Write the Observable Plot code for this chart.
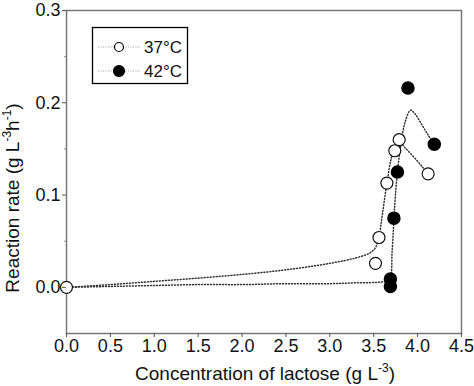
<!DOCTYPE html>
<html><head><meta charset="utf-8">
<script src="https://cdn.jsdelivr.net/npm/d3@7"></script>
<script src="https://cdn.jsdelivr.net/npm/@observablehq/plot@0.6"></script>
<style>body{margin:0;background:#fff;font-family:"Liberation Sans",Arial,sans-serif}</style>
</head><body><div id="chart"></div>
<script>
const xTicks = [0,0.5,1.0,1.5,2.0,2.5,3.0,3.5,4.0,4.5];
const yTicks = [0.0,0.1,0.2,0.3];
const yMinor = [0.05,0.15,0.25];
const series = ["37°C","42°C"];
// measured points
const x37 = [0, 3.52, 3.56, 3.65, 3.74, 3.79, 4.12];
const y37 = [0, 0.026, 0.054, 0.113, 0.148, 0.160, 0.123];
const x42 = [3.69, 3.69, 3.73, 3.77, 3.89, 4.19];
const y42 = [0.009, 0.001, 0.075, 0.125, 0.216, 0.155];
// dotted fit curves
const fx37 = [0, 0.5, 1.0, 1.5, 2.0, 2.5, 3.0, 3.3, 3.45, 3.52, 3.56, 3.60, 3.65, 3.70, 3.75, 3.79, 3.85, 3.95, 4.05, 4.12];
const fy37 = [0, 0.003, 0.0065, 0.010, 0.014, 0.019, 0.026, 0.032, 0.037, 0.043, 0.055, 0.080, 0.113, 0.140, 0.155, 0.158, 0.152, 0.142, 0.131, 0.123];
const fx42 = [0, 0.5, 1.0, 1.5, 2.0, 2.5, 3.0, 3.3, 3.6, 3.68, 3.71, 3.74, 3.77, 3.81, 3.86, 3.92, 3.97, 4.05, 4.12, 4.19];
const fy42 = [0, 0.001, 0.002, 0.003, 0.003, 0.004, 0.004, 0.005, 0.006, 0.009, 0.040, 0.090, 0.125, 0.155, 0.180, 0.192, 0.188, 0.176, 0.165, 0.155];

const pts37 = x37.map((x,i)=>({x,y:y37[i]}));
const pts42 = x42.map((x,i)=>({x,y:y42[i]}));
const fit37 = fx37.map((x,i)=>({x,y:fy37[i]}));
const fit42 = fx42.map((x,i)=>({x,y:fy42[i]}));

const FONT = '"Liberation Sans", Arial, sans-serif';
const axisColor = "#555";
const plot = Plot.plot({
  width: 474, height: 386,
  marginLeft: 66, marginRight: 13, marginTop: 10, marginBottom: 53,
  style: {fontFamily: FONT, background: "#fff", overflow: "visible"},
  x: {domain: [0, 4.5], label: null},
  y: {domain: [-0.05, 0.3], label: null},
  marks: [
    Plot.frame({stroke: "#777", strokeWidth: 1.5}),
    Plot.lineY(fit37, {x: "x", y: "y", stroke: "#333", strokeWidth: 1.5, strokeDasharray: "1,2", curve: "catmull-rom"}),
    Plot.lineY(fit42, {x: "x", y: "y", stroke: "#333", strokeWidth: 1.5, strokeDasharray: "1,2", curve: "catmull-rom"}),
    Plot.dot(pts37, {x: "x", y: "y", r: 6, stroke: "#111", strokeWidth: 1.2, fill: "#fff"}),
    Plot.dot(pts42, {x: "x", y: "y", r: 6, stroke: "#000", fill: "#000"}),
    Plot.axisX({ticks: xTicks, tickFormat: d3.format(".1f"), tickSize: 4, tickPadding: 2, fontSize: 18, stroke: axisColor, fill: "#111"}),
    Plot.axisY({ticks: yTicks, tickFormat: d3.format(".1f"), tickSize: 4, tickPadding: 2, fontSize: 18, stroke: axisColor, fill: "#111"}),
    Plot.axisY({ticks: yMinor, tickFormat: () => "", tickSize: 2, stroke: "#888"})
  ]
});
document.getElementById("chart").appendChild(plot);

const svg = d3.select(plot);
const xl = svg.append("text").attr("x", 265).attr("y", 380).attr("text-anchor","middle")
  .attr("font-size", 19).attr("fill","#111").attr("font-family", FONT);
xl.append("tspan").text("Concentration of lactose (g L");
xl.append("tspan").attr("font-size", 12).attr("dy", -8).text("-3");
xl.append("tspan").attr("dy", 8).text(")");

const yl = svg.append("text").attr("transform","translate(19,198) rotate(-90)").attr("text-anchor","middle")
  .attr("font-size", 19).attr("fill","#111").attr("font-family", FONT);
yl.append("tspan").text("Reaction rate (g L");
yl.append("tspan").attr("font-size", 12).attr("dy", -8).text("-3");
yl.append("tspan").attr("dy", 8).text("h");
yl.append("tspan").attr("font-size", 12).attr("dy", -8).text("-1");
yl.append("tspan").attr("dy", 8).text(")");

// legend
const lg = svg.append("g");
lg.append("rect").attr("x", 92.5).attr("y", 27.5).attr("width", 95).attr("height", 56).attr("fill","#fff").attr("stroke","#000").attr("stroke-width",1.3);
series.forEach((s,i) => {
  const cy = 47 + i*24;
  lg.append("line").attr("x1",98).attr("x2",139).attr("y1",cy).attr("y2",cy).attr("stroke","#999").attr("stroke-width",1).attr("stroke-dasharray","1,1.5");
  lg.append("circle").attr("cx",119).attr("cy",cy).attr("r", i===0?4.5:5.5).attr("fill", i===0?"#fff":"#000").attr("stroke","#000").attr("stroke-width",1.2);
  lg.append("text").attr("x",144).attr("y",cy+6).attr("text-anchor","start").attr("font-size",17).attr("fill","#111").attr("font-family", FONT).text(s);
});
</script></body></html>
